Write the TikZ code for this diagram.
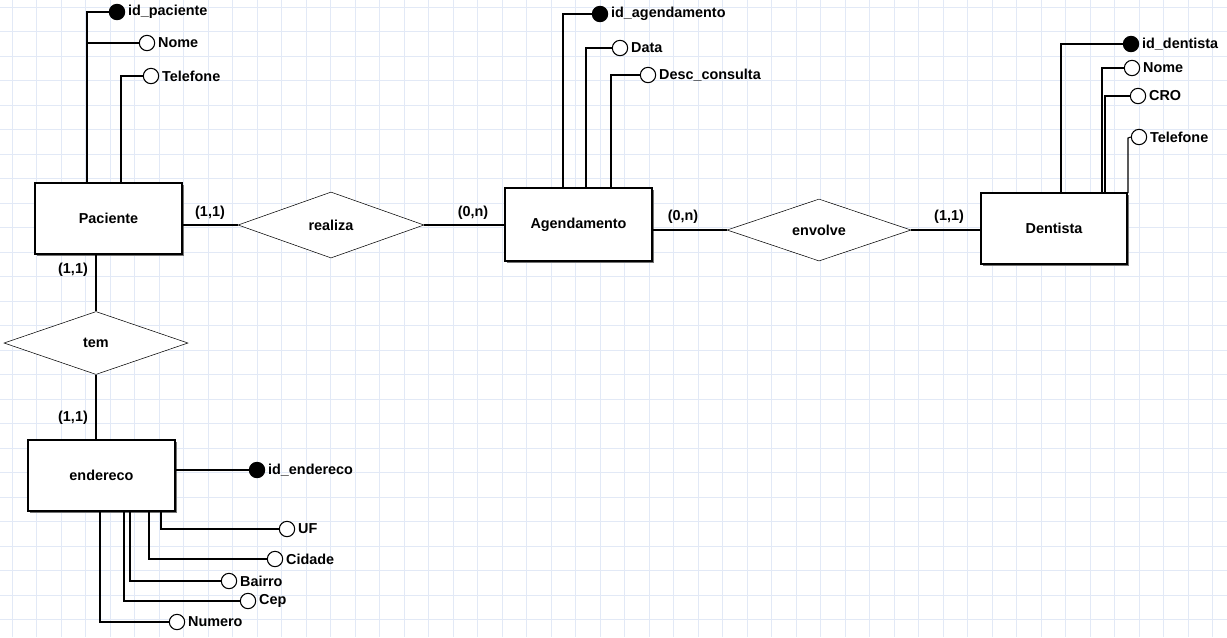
\documentclass[tikz,border=0pt]{standalone}
\usepackage{fontspec}
\setmainfont{Liberation Sans}
\usetikzlibrary{shapes.geometric}
\definecolor{gridc}{RGB}{226,233,246}
\begin{document}
\begin{tikzpicture}[x=0.75pt,y=-0.75pt,
  font=\fontsize{10.8}{12}\selectfont\bfseries,
  ent/.style={draw,thick,fill=white,minimum width=110.25pt,minimum height=53.25pt,inner sep=0pt},
  rel/.style={draw,diamond,thin,fill=white,aspect=2.8,inner sep=0pt},
  att/.style={circle,draw,thick,fill=white,minimum size=11.5pt,inner sep=0pt},
  key/.style={att,fill=black},
  lbl/.style={anchor=west,inner sep=2pt},
  ln/.style={thick}]
\useasboundingbox (0,0) rectangle (1227,637);
\fill[white] (0,0) rectangle (1227,637);
\foreach \i in {0,...,50} \draw[gridc] ({12+\i*24.5},0) -- ({12+\i*24.5},637);
\foreach \i in {0,...,26} \draw[gridc] (0,{7+\i*24.5}) -- (1227,{7+\i*24.5});
% shadows
\fill[black!55] (37,185) rectangle (184,256);
\fill[black!55] (507,190) rectangle (654,263);
\fill[black!55] (983,195) rectangle (1129,266);
\fill[black!55] (30,442) rectangle (177,513);
% entities
\node[ent] (pac) at (108.5,218.5) {Paciente};
\node[ent,minimum height=54.75pt] (ag) at (578.5,224.5) {Agendamento};
\node[ent,minimum width=109.5pt] (den) at (1054,228.5) {Dentista};
\node[ent] (end) at (101.5,475.5) {endereco};
% relations
\node[rel,minimum width=139.5pt,minimum height=49.5pt] (rea) at (331,225) {realiza};
\node[rel,minimum width=138pt,minimum height=46.5pt] (env) at (819,230) {envolve};
\node[rel,minimum width=138pt,minimum height=47.25pt] (tem) at (96,343) {tem};
\draw[ln] (pac.east |- rea.west) -- (rea.west);
\draw[ln] (rea.east) -- (rea.east -| ag.west);
\draw[ln] (ag.east |- env.west) -- (env.west);
\draw[ln] (env.east) -- (env.east -| den.west);
\draw[ln] (tem.north |- pac.south) -- (tem.north);
\draw[ln] (tem.south) -- (tem.south |- end.north);
\node at (210,213) {(1,1)};
\node at (473,213) {(0,n)};
\node at (683,217) {(0,n)};
\node at (949,217) {(1,1)};
\node at (73,270) {(1,1)};
\node at (73,418) {(1,1)};
% Paciente attributes
\node[key] (p1) at (117,12) {}; \node[lbl] at (p1.east) {id\_paciente};
\node[att] (p2) at (147,43) {}; \node[lbl] at (p2.east) {Nome};
\node[att] (p3) at (151,76) {}; \node[lbl] at (p3.east) {Telefone};
\coordinate (pa) at (87,183); \coordinate (pb) at (121,183);
\draw[ln] (pa) -- (pa |- p1) -- (p1.west);
\draw[ln] (pa |- p2) -- (p2.west);
\draw[ln] (pb) -- (pb |- p3) -- (p3.west);
% Agendamento attributes
\node[key] (a1) at (600,14) {}; \node[lbl] at (a1.east) {id\_agendamento};
\node[att] (a2) at (620,48) {}; \node[lbl] at (a2.east) {Data};
\node[att] (a3) at (648,75) {}; \node[lbl] at (a3.east) {Desc\_consulta};
\coordinate (aa) at (563,188); \coordinate (ab) at (586,188); \coordinate (ac) at (611,188);
\draw[ln] (aa) -- (aa |- a1) -- (a1.west);
\draw[ln] (ab) -- (ab |- a2) -- (a2.west);
\draw[ln] (ac) -- (ac |- a3) -- (a3.west);
% Dentista attributes
\node[key] (d1) at (1131,44) {}; \node[lbl] at (d1.east) {id\_dentista};
\node[att] (d2) at (1132,68) {}; \node[lbl] at (d2.east) {Nome};
\node[att] (d3) at (1138,96) {}; \node[lbl] at (d3.east) {CRO};
\node[att] (d4) at (1139,137) {}; \node[lbl] at (d4.east) {Telefone};
\coordinate (da) at (1061,193); \coordinate (db) at (1102,193); \coordinate (dc) at (1105,193); \coordinate (dd) at (1128,193);
\draw[ln] (da) -- (da |- d1) -- (d1.west);
\draw[ln] (db) -- (db |- d2) -- (d2.west);
\draw[ln] (dc) -- (dc |- d3) -- (d3.west);
\draw[ln] (dd) -- (1128,138) -- (d4.west);
% endereco attributes
\node[key] (e0) at (257,470) {}; \node[lbl] at (e0.east) {id\_endereco};
\draw[ln] (end.east |- e0) -- (e0.west);
\node[att] (e1) at (287,529) {}; \node[lbl] at (e1.east) {UF};
\node[att] (e2) at (275,559) {}; \node[lbl] at (e2.east) {Cidade};
\node[att] (e3) at (229,581) {}; \node[lbl] at (e3.east) {Bairro};
\node[att] (e4) at (248,601) {}; \node[lbl] at (e4.east) {Cep};
\node[att] (e5) at (177,622) {}; \node[lbl] at (e5.east) {Numero};
\foreach \x/\n in {161/e1,149/e2,130/e3,124/e4,100/e5}
  \draw[ln] (\x,511) -- (\x,0 |- \n) -- (\n.west);
\end{tikzpicture}
\end{document}
